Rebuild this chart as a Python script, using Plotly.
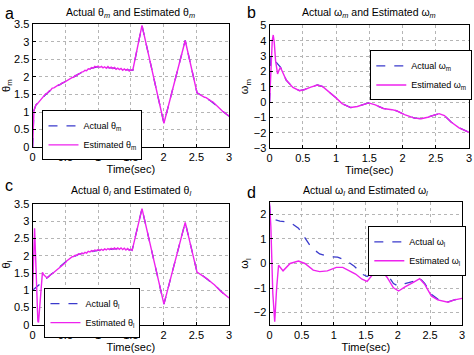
import plotly.graph_objects as go

# ---------------- data ----------------
# Panel a: theta_m
ta_act = [0, 0.02, 0.05, 0.1, 0.2, 0.3, 0.4, 0.5, 0.6, 0.7, 0.8, 0.9, 1.0, 1.1, 1.2, 1.3, 1.4, 1.5, 1.53,
          1.67, 2.005, 2.33, 2.51, 2.6, 2.7, 2.8, 2.9, 3.0]
ya_act = [0, 1.04, 1.2, 1.3, 1.5, 1.66, 1.77, 1.86, 1.97, 2.08, 2.18, 2.25, 2.29, 2.28, 2.26, 2.23, 2.21, 2.19, 2.19,
          3.47, 0.68, 3.04, 1.55, 1.45, 1.34, 1.19, 1.02, 0.88]
ta_est = [0, 0.01, 0.02, 0.035, 0.05, 0.075, 0.1, 0.125, 0.15, 0.175, 0.2, 0.225, 0.25, 0.275, 0.3, 0.325, 0.35,
          0.375, 0.4, 0.425, 0.45, 0.475, 0.5, 0.525, 0.55, 0.575, 0.6, 0.625, 0.65, 0.675, 0.7, 0.725, 0.75,
          0.775, 0.8, 0.825, 0.85, 0.875, 0.9, 0.925, 0.95, 0.975, 1.0, 1.025, 1.05, 1.075, 1.1, 1.125, 1.15,
          1.175, 1.2, 1.225, 1.25, 1.275, 1.3, 1.325, 1.35, 1.375, 1.4, 1.425, 1.45, 1.475, 1.5, 1.53,
          1.67, 2.005, 2.33, 2.51, 2.55, 2.575, 2.6, 2.625, 2.65, 2.675, 2.7, 2.725, 2.75, 2.775, 2.8, 2.825,
          2.85, 2.875, 2.9, 2.925, 2.95, 2.975, 3.0]
ya_est = [0.0, 0.6, 1.04, 1.12, 1.2, 1.24, 1.3, 1.35, 1.42, 1.45, 1.52, 1.54, 1.6, 1.62, 1.68, 1.69, 1.72,
          1.73, 1.78, 1.78, 1.83, 1.84, 1.87, 1.88, 1.93, 1.94, 1.98, 1.99, 2.04, 2.04, 2.09, 2.1, 2.14,
          2.15, 2.19, 2.18, 2.23, 2.22, 2.27, 2.25, 2.3, 2.28, 2.31, 2.27, 2.3, 2.26, 2.29, 2.25, 2.3,
          2.25, 2.28, 2.24, 2.27, 2.22, 2.25, 2.21, 2.24, 2.19, 2.23, 2.19, 2.22, 2.17, 2.2, 2.2,
          3.47, 0.68, 3.04, 1.55, 1.5, 1.47, 1.46, 1.42, 1.41, 1.37, 1.35, 1.31, 1.29, 1.24, 1.2, 1.16,
          1.1, 1.07, 1.02, 0.99, 0.95, 0.93, 0.88]

# Panel b: omega_m
tb_act = [0, 0.01, 0.02, 0.05, 0.1, 0.163, 0.25, 0.35, 0.45, 0.52, 0.62, 0.72, 0.8, 0.9, 1.0, 1.09, 1.22, 1.32,
          1.42, 1.49, 1.59, 1.71, 1.84, 1.91, 2.03, 2.18, 2.28, 2.38, 2.5, 2.55, 2.63, 2.73, 2.85, 3.0]
yb_act = [0, 2.6, 3.0, 2.85, 2.62, 2.27, 1.43, 0.95, 0.74, 0.8, 0.97, 1.11, 1.0, 0.65, 0.27, -0.1, -0.36, -0.29,
          -0.15, -0.06, -0.19, -0.42, -0.5, -0.57, -0.82, -1.05, -1.09, -0.99, -0.82, -0.76, -0.88, -1.3, -1.68, -1.98]
tb_est = [0, 0.02, 0.04, 0.055, 0.07, 0.09, 0.11, 0.12, 0.14, 0.163, 0.25, 0.35, 0.45, 0.52, 0.62, 0.72, 0.8,
          0.9, 1.0, 1.09, 1.22, 1.32, 1.42, 1.49, 1.59, 1.71, 1.84, 1.91, 2.03, 2.18, 2.28, 2.38, 2.5, 2.55,
          2.63, 2.73, 2.85, 3.0]
yb_est = [0, 2.5, 4.0, 4.37, 3.9, 2.7, 1.9, 1.83, 2.05, 2.27, 1.43, 0.95, 0.74, 0.8, 0.97, 1.11, 1.0,
          0.65, 0.27, -0.1, -0.36, -0.29, -0.15, -0.06, -0.19, -0.42, -0.5, -0.57, -0.82, -1.05, -1.09, -0.99,
          -0.82, -0.76, -0.88, -1.3, -1.68, -1.98]

# Panel c: theta_l
tc_act = [0, 0.06, 0.12, 0.2, 0.3, 0.4, 0.5, 0.6, 0.7, 0.8, 0.9, 1.0, 1.1, 1.2, 1.3, 1.4, 1.5, 1.52,
          1.67, 2.005, 2.33, 2.51, 2.6, 2.7, 2.8, 2.9, 3.0]
yc_act = [1.0, 1.1, 1.2, 1.32, 1.5, 1.68, 1.82, 1.95, 2.04, 2.09, 2.13, 2.16, 2.18, 2.2, 2.21, 2.2, 2.18, 2.17,
          3.37, 0.6, 2.97, 1.53, 1.42, 1.28, 1.12, 0.93, 0.78]
tc_est = [0, 0.015, 0.03, 0.045, 0.06, 0.08, 0.09, 0.11, 0.13, 0.15, 0.17, 0.2, 0.22, 0.25, 0.275, 0.3, 0.325,
          0.35, 0.375, 0.4, 0.425, 0.45, 0.475, 0.5, 0.525, 0.55, 0.575, 0.6, 0.625, 0.65, 0.675, 0.7, 0.725,
          0.75, 0.775, 0.8, 0.825, 0.85, 0.875, 0.9, 0.925, 0.95, 0.975, 1.0, 1.025, 1.05, 1.075, 1.1, 1.125,
          1.15, 1.175, 1.2, 1.225, 1.25, 1.275, 1.3, 1.325, 1.35, 1.375, 1.4, 1.425, 1.45, 1.475, 1.5, 1.52,
          1.67, 2.005, 2.33, 2.51, 2.55, 2.575, 2.6, 2.625, 2.65, 2.675, 2.7, 2.725, 2.75, 2.775, 2.8, 2.825,
          2.85, 2.875, 2.9, 2.925, 2.95, 2.975, 3.0]
yc_est = [1.0, 2.0, 2.8, 2.0, 0.9, 0.1, 0.07, 0.6, 1.2, 1.52, 1.45, 1.38, 1.36, 1.4, 1.46, 1.48, 1.52,
          1.55, 1.6, 1.63, 1.68, 1.72, 1.77, 1.8, 1.86, 1.9, 1.93, 1.97, 1.98, 2.02, 2.01, 2.06, 2.04,
          2.08, 2.06, 2.1, 2.08, 2.13, 2.11, 2.15, 2.13, 2.17, 2.15, 2.18, 2.15, 2.19, 2.16, 2.2, 2.17,
          2.21, 2.18, 2.22, 2.19, 2.23, 2.19, 2.23, 2.19, 2.23, 2.18, 2.22, 2.17, 2.21, 2.16, 2.19, 2.16,
          3.37, 0.6, 2.97, 1.53, 1.48, 1.45, 1.42, 1.4, 1.35, 1.32, 1.28, 1.25, 1.2, 1.16, 1.12, 1.06,
          1.02, 0.97, 0.93, 0.89, 0.85, 0.82, 0.78]

# Panel d: omega_l
td_act = [0, 0.02, 0.16, 0.32, 0.45, 0.55, 0.65, 0.78, 0.93, 1.06, 1.19, 1.32, 1.44, 1.52, 1.6, 1.71, 1.83,
          1.93, 2.01, 2.11, 2.24, 2.34, 2.42, 2.52, 2.62, 2.78, 2.88, 3.0]
yd_act = [2.36, 1.83, 1.73, 1.67, 1.44, 1.04, 0.65, 0.39, 0.28, 0.26, 0.12, -0.11, -0.43, -0.53, -0.37, -0.16,
          -0.43, -0.82, -0.93, -0.82, -0.73, -0.6, -0.82, -1.25, -1.45, -1.56, -1.48, -1.42]
td_est = [0, 0.02, 0.05, 0.08, 0.11, 0.14, 0.21, 0.32, 0.45, 0.55, 0.68, 0.78, 0.9, 1.04, 1.14, 1.24, 1.34,
          1.44, 1.52, 1.6, 1.71, 1.83, 1.93, 2.01, 2.11, 2.24, 2.34, 2.42, 2.52, 2.62, 2.78, 2.88, 3.0]
yd_est = [2.45, 1.5, -1.2, -2.37, -1.0, -0.07, -0.3, 0.0, 0.1, 0.0, -0.27, -0.33, -0.3, -0.16, -0.16, -0.3,
          -0.43, -0.64, -0.73, -0.47, -0.18, -0.56, -0.99, -1.12, -0.95, -0.77, -0.62, -0.86, -1.32, -1.48,
          -1.58, -1.48, -1.42]

titles = ["Actual θ<sub><i>m</i></sub> and Estimated θ<sub><i>m</i></sub>",
          "Actual ω<sub><i>m</i></sub> and Estimated ω<sub><i>m</i></sub>",
          "Actual θ<sub><i>l</i></sub> and Estimated θ<sub><i>l</i></sub>",
          "Actual ω<sub><i>l</i></sub> and Estimated ω<sub><i>l</i></sub>"]
act_names = ["Actual θ<sub>m</sub>", "Actual ω<sub>m</sub>", "Actual θ<sub>l</sub>", "Actual ω<sub>l</sub>"]
est_names = ["Estimated θ<sub>m</sub>", "Estimated ω<sub>m</sub>", "Estimated θ<sub>l</sub>", "Estimated ω<sub>l</sub>"]
ytitles = ["θ<sub>m</sub>", "ω<sub>m</sub>", "θ<sub>l</sub>", "ω<sub>l</sub>"]
letters = ["a", "b", "c", "d"]

# ---------------- figure ----------------
W, H = 474, 355
FONT = "Liberation Sans, Arial, sans-serif"
BLUE = "#3a3acc"
MAG = "#ee22ee"

data = [(ta_act, ya_act, ta_est, ya_est), (tb_act, yb_act, tb_est, yb_est),
        (tc_act, yc_act, tc_est, yc_est), (td_act, yd_act, td_est, yd_est)]

# pixel boxes: (x0, x1, ytop, ybottom)
boxes = [(30, 229, 19, 146), (270, 472, 20, 147), (30, 229, 205, 330), (270, 465, 203, 330)]
yranges = [[0, 3.5], [-3, 5], [0, 3.5], [-2.5, 2.5]]
ydticks = [0.5, 1, 0.5, 1]
legpos = [(40, 108), (372, 46), (42, 292), (370, 228)]
letterpos = [(0, 8), (245, 7), (0, 186), (245, 193)]
titley = [7, 7, 191, 191]

fig = go.Figure()
legend_layouts = {}
annotations = []
for i in range(4):
    ta, ya, te, ye = data[i]
    sfx = "" if i == 0 else str(i + 1)
    lg = "legend" if i == 0 else "legend" + str(i + 1)
    fig.add_trace(go.Scatter(x=ta, y=ya, mode="lines", name=act_names[i],
                             line=dict(color=BLUE, width=1.3, dash="dash"),
                             xaxis="x" + sfx, yaxis="y" + sfx, legend=lg))
    fig.add_trace(go.Scatter(x=te, y=ye, mode="lines", name=est_names[i],
                             line=dict(color=MAG, width=1.4),
                             xaxis="x" + sfx, yaxis="y" + sfx, legend=lg))
    x0, x1, yt, yb = boxes[i]
    common = dict(showline=True, mirror=True, linecolor="black", linewidth=1,
                  ticks="inside", ticklen=3, tickcolor="black",
                  showgrid=True, gridcolor="#b5b5b5", griddash="dot", gridwidth=1,
                  zeroline=False, tickfont=dict(size=11, color="black", family=FONT))
    fig.update_layout(**{
        "xaxis" + sfx: dict(domain=[x0 / W, x1 / W], range=[0, 3], dtick=0.5,
                            anchor="y" + sfx,
                            title=dict(text="Time(sec)", font=dict(size=11, family=FONT), standoff=2),
                            **common),
        "yaxis" + sfx: dict(domain=[1 - yb / H, 1 - yt / H], range=yranges[i], dtick=ydticks[i],
                            anchor="x" + sfx,
                            title=dict(text=ytitles[i], font=dict(size=11, family=FONT), standoff=2),
                            **common),
    })
    lx, ly = legpos[i]
    legend_layouts[lg] = dict(x=lx / W, y=1 - ly / H, xanchor="left", yanchor="top",
                              bgcolor="white", bordercolor="black", borderwidth=1,
                              font=dict(size=9, family=FONT, color="black"),
                              itemwidth=30, tracegroupgap=0)
    annotations.append(dict(text=titles[i], x=(x0 + x1) / 2 / W, y=1 - titley[i] / H,
                            xref="paper", yref="paper", xanchor="center", yanchor="middle",
                            showarrow=False,
                            font=dict(size=10.5, family=FONT, color="black")))
    px, py = letterpos[i]
    annotations.append(dict(text=letters[i], x=px / W, y=1 - py / H, xref="paper", yref="paper",
                            xanchor="left", yanchor="middle", showarrow=False,
                            font=dict(size=16, family=FONT, color="black")))

fig.update_layout(width=W, height=H, margin=dict(l=0, r=0, t=0, b=0),
                  paper_bgcolor="white", plot_bgcolor="white",
                  font=dict(family=FONT, color="black"),
                  annotations=annotations, **legend_layouts)

fig.write_html("out.html", config={"displayModeBar": False},
               post_script="document.documentElement.style.margin='0';"
                           "document.body.style.margin='0';document.body.style.padding='0';"
                           "document.body.style.overflow='hidden';")
